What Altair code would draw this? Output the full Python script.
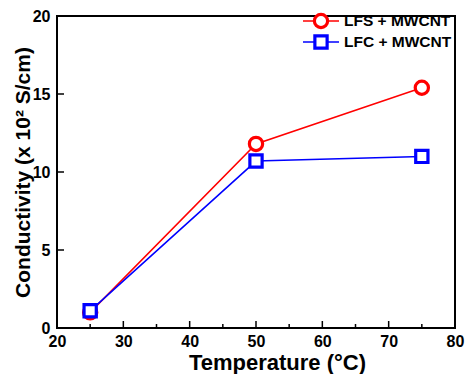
import altair as alt
import pandas as pd

# ---- data ----
temps = [25, 50, 75]
lfs = [1.0, 11.8, 15.4]
lfc = [1.1, 10.7, 11.0]
series = ["LFS + MWCNT", "LFC + MWCNT"]
colors = ["#ff0000", "#0000ff"]
shapes = ["circle", "square"]
sizes = [175, 150]
x_labels = [20, 30, 40, 50, 60, 70, 80]
x_major = [30, 40, 50, 60, 70]
x_minor = [25, 35, 45, 55, 65, 75]
y_labels = [0, 5, 10, 15, 20]
y_major = [5, 10, 15]

PAD_TOP, PAD_LEFT, PAD_RIGHT, PAD_BOTTOM = 8, 49, 11, 46
W, H = 398, 312
FONT = "Liberation Sans"

values = [lfs, lfc]
xs = alt.Scale(domain=[20, 80], nice=False, zero=False)
ys = alt.Scale(domain=[0, 20], nice=False)

x_axis = alt.Axis(values=x_labels, format="d", title="Temperature (°C)",
                  grid=False, domain=False, ticks=False, labelFlush=False,
                  labelOverlap=False, labelPadding=5, labelFont=FONT,
                  labelFontSize=16, labelFontWeight="bold", labelColor="black",
                  titleFont=FONT, titleFontSize=22, titleFontWeight="bold",
                  titleColor="black", titleX=220, titleY=34, titleBaseline="middle")
y_axis = alt.Axis(values=y_labels, format="d", title="Conductivity (x 10² S/cm)",
                  grid=False, domain=False, ticks=False, labelFlush=False,
                  labelOverlap=False, labelPadding=7, labelFont=FONT,
                  labelFontSize=16, labelFontWeight="bold", labelColor="black",
                  titleFont=FONT, titleFontSize=21, titleFontWeight="bold",
                  titleColor="black", titleX=-34, titleY=156, titleBaseline="middle",
                  titleAlign="center", titleAngle=270)

layers = []

# base (axes)
base_df = pd.DataFrame({"T": [20, 80], "C": [0, 20]})
layers.append(
    alt.Chart(base_df).mark_point(opacity=0).encode(
        x=alt.X("T:Q", scale=xs, axis=x_axis),
        y=alt.Y("C:Q", scale=ys, axis=y_axis),
    )
)

# inward ticks
layers.append(
    alt.Chart(pd.DataFrame({"v": x_major})).mark_rule(color="black", strokeWidth=1.5).encode(
        x=alt.X("v:Q", scale=xs), y=alt.value(H), y2=alt.value(H - 7)
    )
)
layers.append(
    alt.Chart(pd.DataFrame({"v": x_minor})).mark_rule(color="black", strokeWidth=1.5).encode(
        x=alt.X("v:Q", scale=xs), y=alt.value(H), y2=alt.value(H - 4)
    )
)
layers.append(
    alt.Chart(pd.DataFrame({"v": y_major})).mark_rule(color="black", strokeWidth=1.5).encode(
        y=alt.Y("v:Q", scale=ys), x=alt.value(0), x2=alt.value(7)
    )
)

# lines
for name, vals, col in zip(series, values, colors):
    d = pd.DataFrame({"T": temps, "C": vals})
    layers.append(
        alt.Chart(d).mark_line(color=col, strokeWidth=1.5).encode(
            x=alt.X("T:Q", scale=xs), y=alt.Y("C:Q", scale=ys)
        )
    )

# points
for name, vals, col, shp, sz in zip(series, values, colors, shapes, sizes):
    d = pd.DataFrame({"T": temps, "C": vals})
    layers.append(
        alt.Chart(d).mark_point(shape=shp, filled=True, fill="white", stroke=col,
                                strokeWidth=3.2, size=sz, opacity=1).encode(
            x=alt.X("T:Q", scale=xs), y=alt.Y("C:Q", scale=ys)
        )
    )

# legend (inside top-right)
leg_y = [5, 26]
for i, (name, col, shp, sz) in enumerate(zip(series, colors, shapes, sizes)):
    ld = pd.DataFrame({"label": [name]})
    layers.append(
        alt.Chart(ld).mark_rule(color=col, strokeWidth=1.5).encode(
            x=alt.value(246), x2=alt.value(282), y=alt.value(leg_y[i])
        )
    )
    layers.append(
        alt.Chart(ld).mark_point(shape=shp, filled=True, fill="white", stroke=col,
                                 strokeWidth=3.2, size=sz, opacity=1).encode(
            x=alt.value(264), y=alt.value(leg_y[i])
        )
    )
    layers.append(
        alt.Chart(ld).mark_text(align="left", baseline="middle", font=FONT,
                                fontSize=15.5, fontWeight="bold", color="black").encode(
            x=alt.value(287), y=alt.value(leg_y[i]), text="label:N"
        )
    )

chart = alt.layer(*layers).properties(
    width=W, height=H,
    autosize=alt.AutoSizeParams(type="none"),
    padding={"left": PAD_LEFT, "top": PAD_TOP, "right": PAD_RIGHT, "bottom": PAD_BOTTOM},
    background="white",
).configure_view(stroke="black", strokeWidth=2)

chart.save("out.html", embed_options={"renderer": "svg", "actions": False})
